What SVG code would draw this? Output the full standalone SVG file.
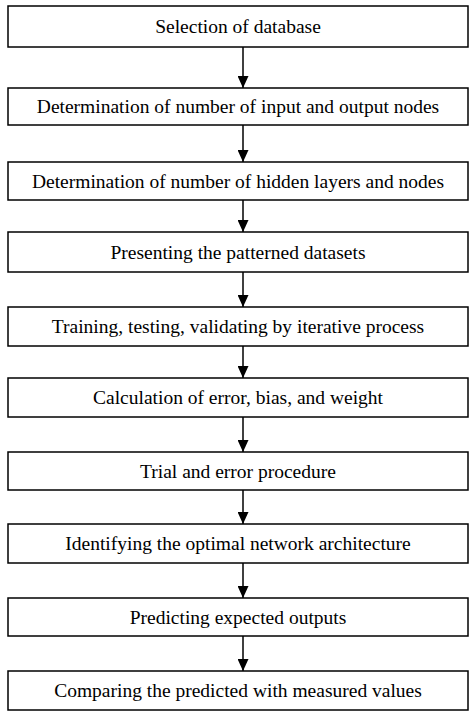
<svg xmlns="http://www.w3.org/2000/svg" width="474" height="714" viewBox="0 0 474 714">
<style>
.box{fill:#fff;stroke:#000;stroke-width:1.5}
.lbl{font-family:"Liberation Serif","Times New Roman",serif;font-size:19.5px;fill:#000;text-anchor:middle}
.con{stroke:#000;stroke-width:1.5;fill:none}
</style>
<defs>
<marker id="ah" markerUnits="userSpaceOnUse" markerWidth="12" markerHeight="11" refX="12" refY="5.5" orient="auto">
<path d="M0,0 L12,5.5 L0,11 Z" fill="#000"/>
</marker>
</defs>
<rect width="474" height="714" fill="#fff"/>
<g id="connectors">
<line class="con" x1="243" y1="47" x2="243" y2="88" marker-end="url(#ah)"/>
<line class="con" x1="243" y1="125" x2="243" y2="162" marker-end="url(#ah)"/>
<line class="con" x1="243" y1="200" x2="243" y2="232" marker-end="url(#ah)"/>
<line class="con" x1="243" y1="272" x2="243" y2="307" marker-end="url(#ah)"/>
<line class="con" x1="243" y1="346" x2="243" y2="378" marker-end="url(#ah)"/>
<line class="con" x1="243" y1="417" x2="243" y2="452" marker-end="url(#ah)"/>
<line class="con" x1="243" y1="490" x2="243" y2="524" marker-end="url(#ah)"/>
<line class="con" x1="243" y1="563" x2="243" y2="598" marker-end="url(#ah)"/>
<line class="con" x1="243" y1="636" x2="243" y2="671" marker-end="url(#ah)"/>
</g>
<g id="n1"><rect class="box" x="8" y="6" width="460" height="41"/><text class="lbl" x="238" y="33">Selection of database</text></g>
<g id="n2"><rect class="box" x="8" y="88" width="460" height="37"/><text class="lbl" x="238" y="113">Determination of number of input and output nodes</text></g>
<g id="n3"><rect class="box" x="8" y="162" width="460" height="38"/><text class="lbl" x="238" y="188">Determination of number of hidden layers and nodes</text></g>
<g id="n4"><rect class="box" x="8" y="232" width="460" height="40"/><text class="lbl" x="238" y="259">Presenting the patterned datasets</text></g>
<g id="n5"><rect class="box" x="8" y="307" width="460" height="39"/><text class="lbl" x="238" y="333">Training, testing, validating by iterative process</text></g>
<g id="n6"><rect class="box" x="8" y="378" width="460" height="39"/><text class="lbl" x="238" y="404">Calculation of error, bias, and weight</text></g>
<g id="n7"><rect class="box" x="8" y="452" width="460" height="38"/><text class="lbl" x="238" y="478">Trial and error procedure</text></g>
<g id="n8"><rect class="box" x="8" y="524" width="460" height="39"/><text class="lbl" x="238" y="550">Identifying the optimal network architecture</text></g>
<g id="n9"><rect class="box" x="8" y="598" width="460" height="38"/><text class="lbl" x="238" y="624">Predicting expected outputs</text></g>
<g id="n10"><rect class="box" x="8" y="671" width="460" height="39"/><text class="lbl" x="238" y="697">Comparing the predicted with measured values</text></g>
</svg>
